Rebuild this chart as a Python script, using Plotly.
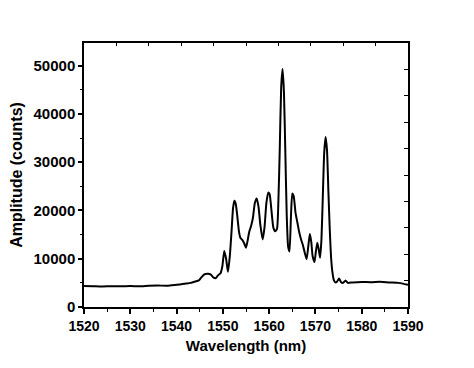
import plotly.graph_objects as go

wavelength = [1520, 1522, 1524, 1526, 1528, 1530, 1532, 1534, 1536, 1538, 1540, 1541, 1542, 1543, 1544,
              1544.8, 1545.5, 1546.1, 1546.8, 1547.4, 1548.0, 1548.5, 1549.0, 1549.5, 1549.9, 1550.3, 1550.7,
              1551.1, 1551.5, 1551.9, 1552.2, 1552.5, 1552.8, 1553.1, 1553.5, 1553.8, 1554.2, 1554.6, 1555.0,
              1555.3, 1555.7, 1556.1, 1556.5, 1556.9, 1557.3, 1557.7, 1558.1, 1558.6, 1559.0, 1559.4, 1559.8,
              1560.1, 1560.5, 1560.9, 1561.3, 1561.7, 1562.0, 1562.3, 1562.6, 1562.9, 1563.2, 1563.5, 1563.8,
              1564.1, 1564.4, 1564.7, 1565.0, 1565.3, 1565.7, 1566.1, 1566.5, 1566.9, 1567.3, 1567.7, 1568.1,
              1568.5, 1568.8, 1569.1, 1569.4, 1569.8, 1570.1, 1570.4, 1570.7, 1571.0, 1571.3, 1571.6, 1571.9,
              1572.2, 1572.5, 1572.8, 1573.1, 1573.4, 1573.7, 1574.0, 1574.3, 1574.7, 1575.1, 1575.5, 1576.0,
              1576.5, 1577.0, 1578, 1580, 1582, 1584, 1586, 1588, 1590]

amplitude = [4350, 4300, 4250, 4300, 4280, 4350, 4300, 4400, 4450, 4400, 4600, 4700, 4850, 5000, 5300,
             5500, 6300, 6800, 6900, 6700, 6100, 6000, 6600, 7000, 8500, 11600, 10000,
             7300, 10500, 16000, 20500, 22000, 21300, 19000, 15500, 14300, 13900, 13200, 12300,
             13500, 15600, 16800, 18500, 21500, 22500, 20800, 17000, 14000, 16500, 21500, 23700,
             23400, 20000, 16500, 15700, 16200, 22000, 33000, 45500, 49300, 44500, 32000, 19000,
             12500, 11500, 18500, 23500, 23000, 19500, 17500, 15500, 14000, 12800, 11200, 9900,
             13000, 15100, 13500, 10500, 9300, 11500, 13300, 12000, 10200, 14000, 23000, 32000,
             35200, 32500, 24000, 16000, 10000, 7000, 5500, 5100, 5300, 5900, 5200, 5000,
             5500, 5000, 5100, 5200, 5150, 5250, 5100, 5000, 4600]

x_ticks = [1520, 1530, 1540, 1550, 1560, 1570, 1580, 1590]
y_ticks = [0, 10000, 20000, 30000, 40000, 50000]
y_tick_labels = ["0", "10000", "20000", "30000", "40000", "50000"]

FONT = "Liberation Sans, Arial, sans-serif"

fig = go.Figure()
fig.add_trace(go.Scatter(x=wavelength, y=amplitude, mode="lines",
                         line=dict(color="black", width=2, shape="spline", smoothing=0.5),
                         showlegend=False, hoverinfo="skip"))
# helper trace for the unlabelled top/right frame axes
fig.add_trace(go.Scatter(x=[0, 10], y=[0, 10], xaxis="x2", yaxis="y2", mode="markers",
                         marker=dict(opacity=0), showlegend=False, hoverinfo="skip"))

fig.update_layout(
    width=466, height=360,
    margin=dict(l=76, r=66, t=35, b=61),
    paper_bgcolor="white", plot_bgcolor="white",
    font=dict(family=FONT, color="black"),
    xaxis=dict(range=[1520, 1590], tickvals=x_ticks, ticks="outside", ticklen=5, tickwidth=1.5,
               tickcolor="black", showline=True, linecolor="black", linewidth=1.5, showgrid=False,
               zeroline=False, tickfont=dict(size=14, weight="bold"), automargin=False,
               minor=dict(dtick=5, tick0=1520, ticks="outside", ticklen=3, tickwidth=1.2, tickcolor="black"),
               title=dict(text="Wavelength (nm)", font=dict(size=15, weight="bold"), standoff=8)),
    yaxis=dict(range=[0, 54700], tickvals=y_ticks, ticktext=y_tick_labels, ticks="outside", ticklen=4,
               tickwidth=1.5, tickcolor="black", showline=True, linecolor="black", linewidth=1.5,
               showgrid=False, zeroline=False, tickfont=dict(size=15, weight="bold"), automargin=False,
               minor=dict(dtick=5000, tick0=0, ticks="outside", ticklen=2.5, tickwidth=1.2, tickcolor="black"),
               title=dict(text="Amplitude (counts)", font=dict(size=16, weight="bold"), standoff=8)),
    xaxis2=dict(overlaying="x", side="top", range=[0, 10], dtick=1, ticks="inside", ticklen=3,
                tickwidth=1.2, tickcolor="black", showticklabels=False, showline=True, automargin=False,
                linecolor="black", linewidth=1.5, showgrid=False, zeroline=False),
    yaxis2=dict(overlaying="y", side="right", range=[0, 10], dtick=1, ticks="inside", ticklen=4,
                tickwidth=1.2, tickcolor="black", showticklabels=False, showline=True, automargin=False,
                linecolor="black", linewidth=1.5, showgrid=False, zeroline=False),
)

fig.write_html("out.html")
